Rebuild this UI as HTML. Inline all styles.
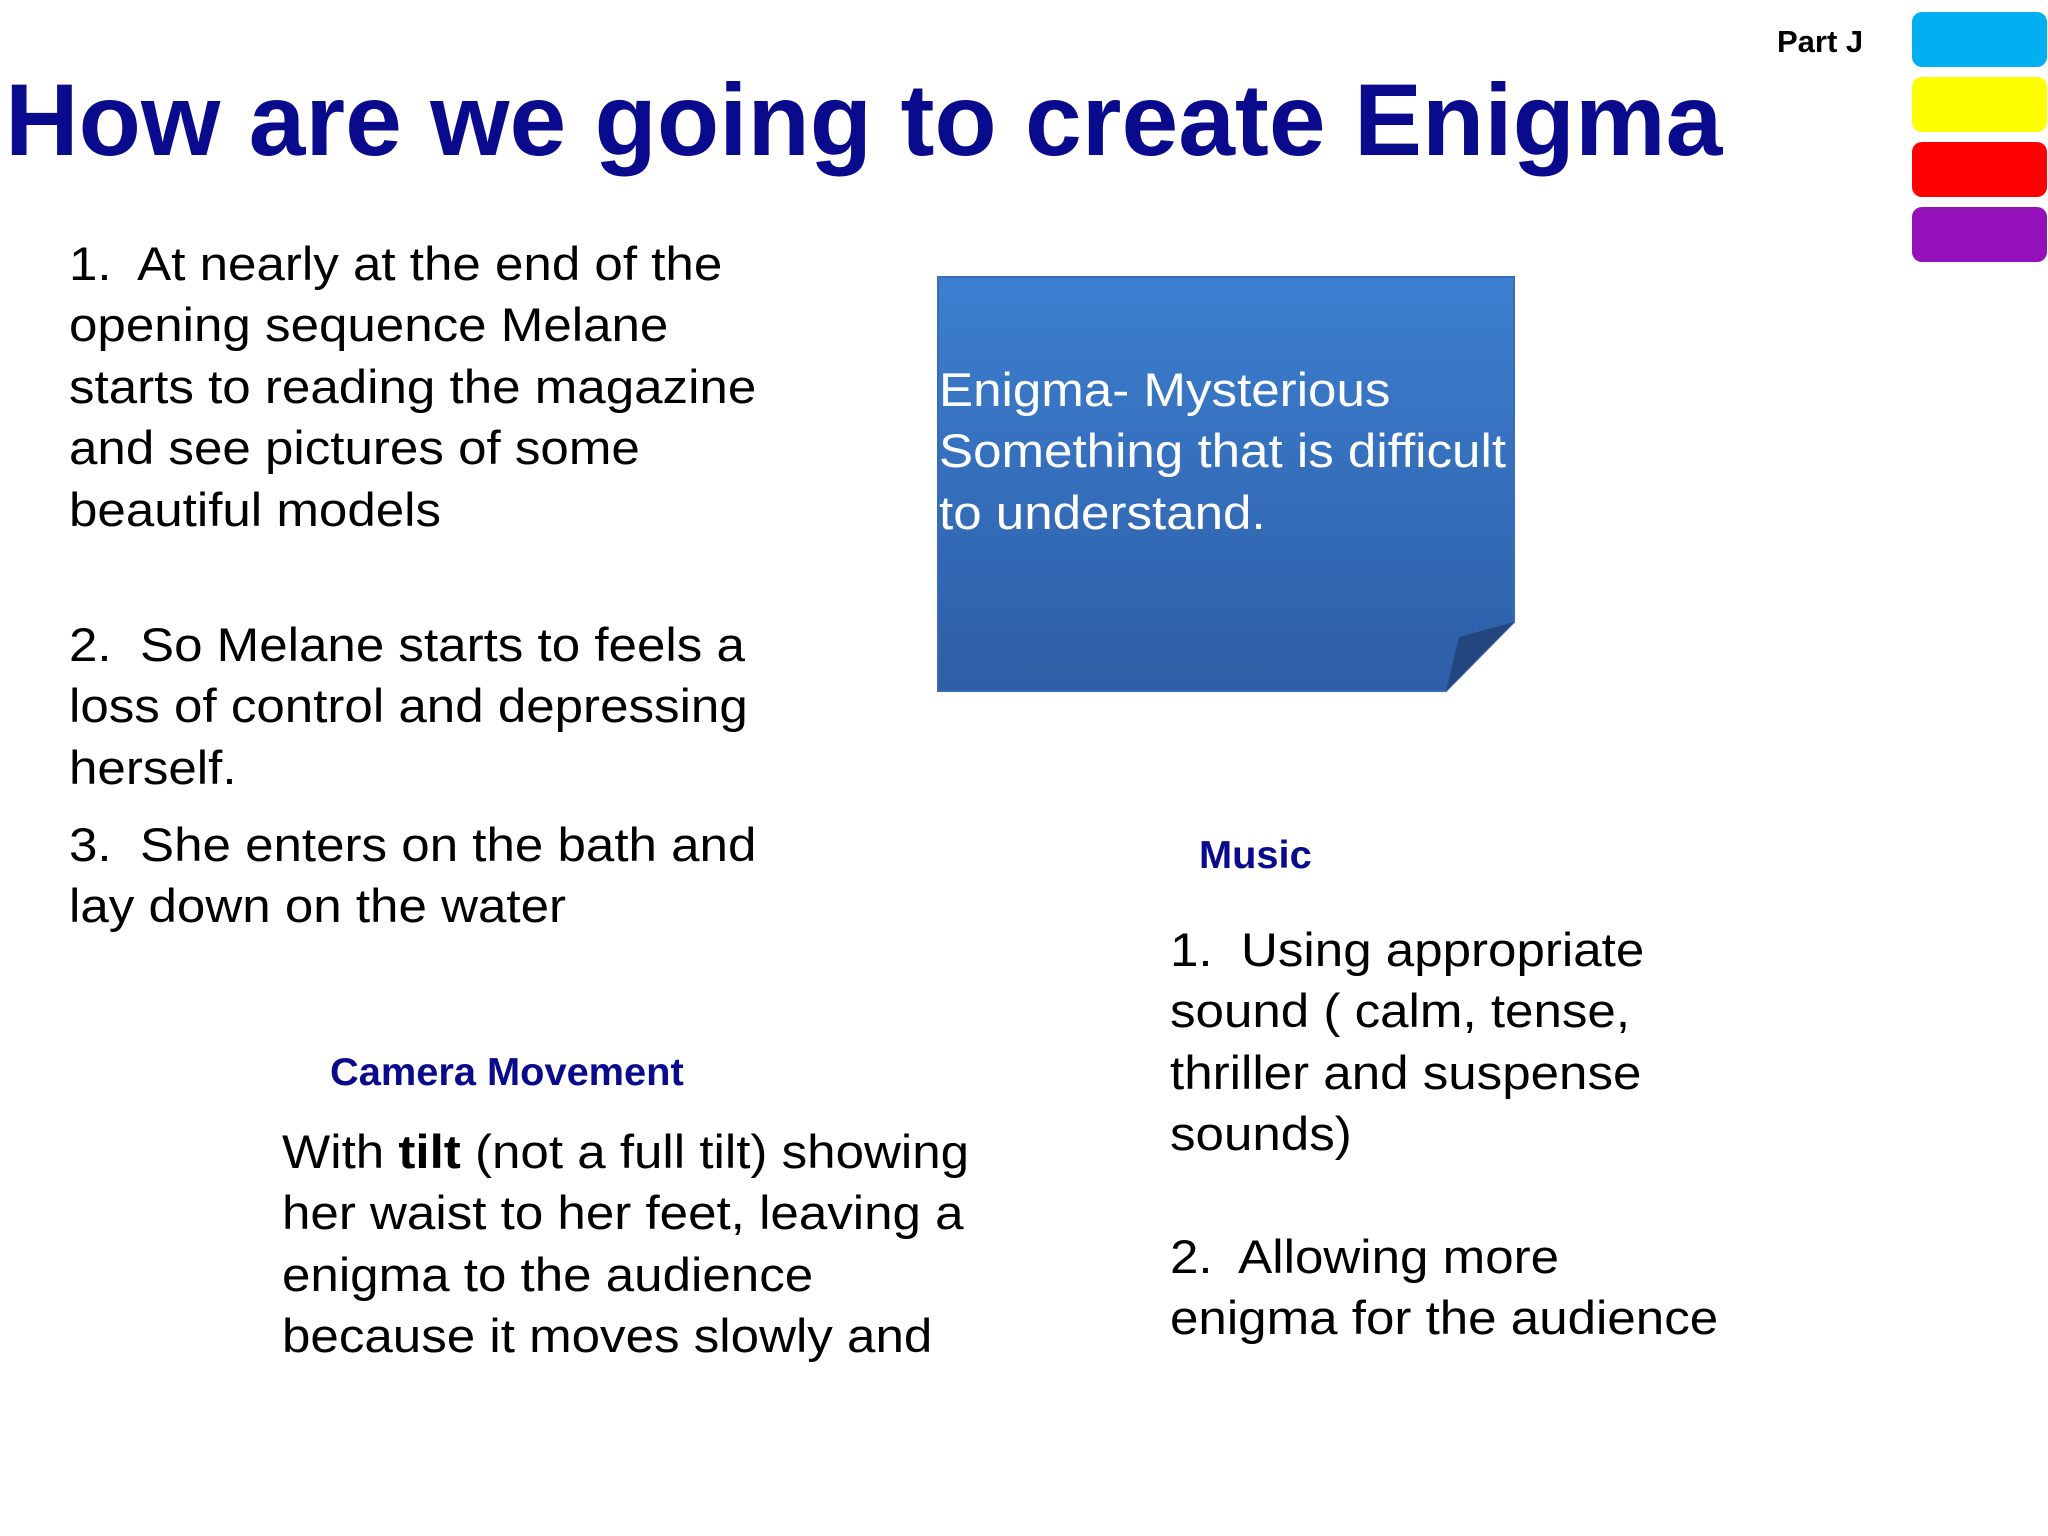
<!DOCTYPE html>
<html><head><style>
body{margin:0;width:2048px;height:1536px;background:#fff;position:relative;overflow:hidden;font-family:"Liberation Sans",Arial,sans-serif}
.a{position:absolute;white-space:nowrap}
.t{font-size:47px;line-height:61.4px;color:#000;transform:scaleX(1.087);transform-origin:0 0}
.h{font-weight:bold;color:#0a0a8c;font-size:39px;transform:scaleX(1.02);transform-origin:0 0}
.c{position:absolute;left:1912px;width:135px;height:55px;border-radius:10px}
</style></head><body>
<div class="a" style="left:5px;top:60px;font-size:102px;font-weight:bold;color:#0a0a8c;line-height:120px">How are we going to create Enigma</div>
<div class="a" style="left:1777px;top:24px;font-size:31px;font-weight:bold">Part J</div>
<div class="c" style="top:12px;background:#00b0f0"></div>
<div class="c" style="top:77px;background:#ffff00"></div>
<div class="c" style="top:142px;background:#ff0000"></div>
<div class="c" style="top:207px;background:#9410b8"></div>
<div class="a t" style="left:69px;top:233px">1.&nbsp; At nearly at the end of the<br>opening sequence Melane<br>starts to reading the magazine<br>and see pictures of some<br>beautiful models</div>
<div class="a t" style="left:69px;top:614px">2.&nbsp; So Melane starts to feels a<br>loss of control and depressing<br>herself.</div>
<div class="a t" style="left:69px;top:814px">3.&nbsp; She enters on the bath and<br>lay down on the water</div>
<svg class="a" style="left:936px;top:275px" width="582" height="420">
<defs><linearGradient id="g" x1="0" y1="0" x2="0" y2="1"><stop offset="0" stop-color="#3c7fd0"/><stop offset="1" stop-color="#2e5ea6"/></linearGradient></defs>
<path d="M2 2 H578 V347 L510 416 H2 Z" fill="url(#g)" stroke="#3a6cb5" stroke-width="2"/>
<path d="M578 347 L523 362 L510 416 Z" fill="#23467f"/>
</svg>
<div class="a t" style="left:939px;top:359px;color:#fff">Enigma- Mysterious<br>Something that is difficult<br>to understand.</div>
<div class="a h" style="left:1199px;top:834px">Music</div>
<div class="a t" style="left:1170px;top:919px">1.&nbsp; Using appropriate<br>sound ( calm, tense,<br>thriller and suspense<br>sounds)</div>
<div class="a t" style="left:1170px;top:1226px">2.&nbsp; Allowing more<br>enigma for the audience</div>
<div class="a h" style="left:330px;top:1051px">Camera Movement</div>
<div class="a t" style="left:282px;top:1121px">With <b>tilt</b> (not a full tilt) showing<br>her waist to her feet, leaving a<br>enigma to the audience<br>because it moves slowly and</div>
</body></html>
